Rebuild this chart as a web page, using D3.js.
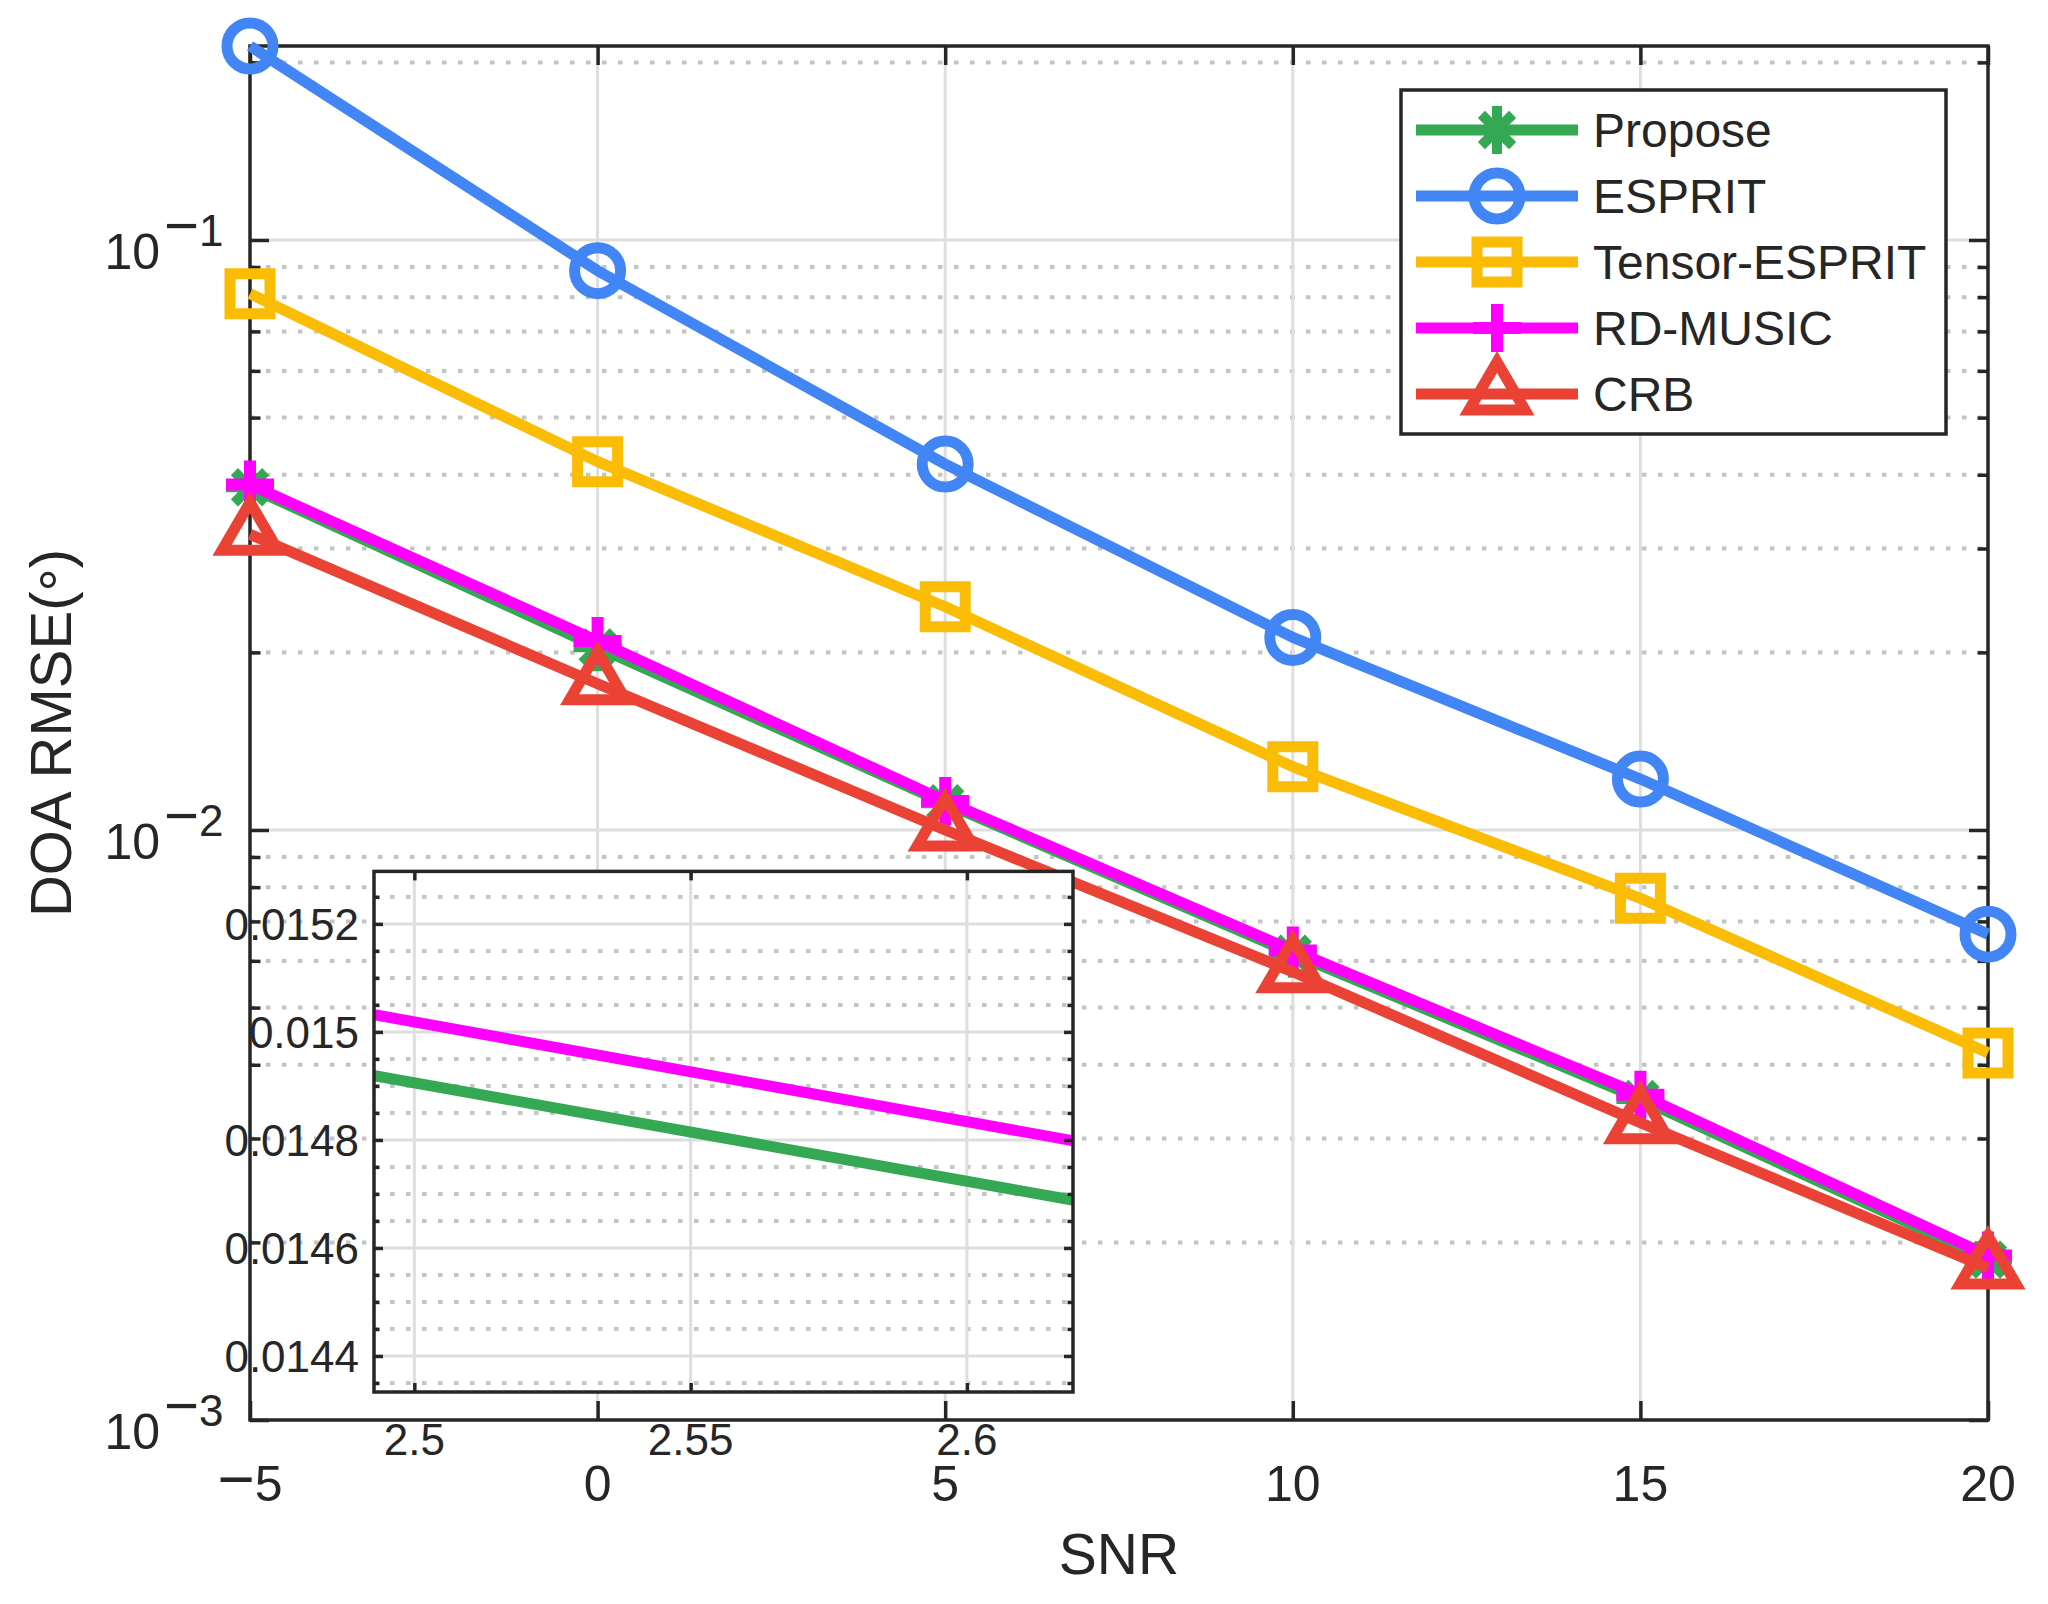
<!DOCTYPE html>
<html>
<head>
<meta charset="utf-8">
<script src="https://cdn.jsdelivr.net/npm/d3@7"></script>
<style>
  body { margin: 0; background: #fff; }
  svg { display: block; }
  text { font-family: "Liberation Sans", Arial, Helvetica, sans-serif; fill: #262626; }
</style>
</head>
<body>
<svg id="chart"></svg>
<script>
// data
var snr = [-5, 0, 5, 10, 15, 20];
var propose = [0.0381, 0.0204, 0.0111, 0.00617, 0.00350, 0.00187];
var esprit  = [0.2132, 0.0887, 0.0417, 0.0212, 0.0122, 0.00666];
var tensor  = [0.0811, 0.0421, 0.0239, 0.0128, 0.00766, 0.00419];
var rdmusic = [0.0385, 0.0209, 0.0112, 0.00625, 0.00356, 0.00190];
var crb     = [0.0317, 0.0177, 0.0100, 0.00575, 0.00319, 0.00181];

var names   = ["Propose", "ESPRIT", "Tensor-ESPRIT", "RD-MUSIC", "CRB"];
var colors  = ["#34a853", "#4285f4", "#fbbc05", "#ff00ff", "#ea4335"];
var markers = ["star", "circle", "square", "plus", "triangle"];

var xTicks = [-5, 0, 5, 10, 15, 20];
var xTickLabels = ["\u22125", "0", "5", "10", "15", "20"];
var yMajorTicks = [1e-3, 1e-2, 1e-1];
var yExponents = ["3", "2", "1"];

// zoomed-in inset
var insetSnr = [2.49, 2.62];
var insetPropose = [0.014924, 0.014687];
var insetRdmusic = [0.015037, 0.014797];
var insetXTicks = [2.5, 2.55, 2.6];
var insetXTickLabels = ["2.5", "2.55", "2.6"];
var insetYTicks = [0.0144, 0.0146, 0.0148, 0.015, 0.0152];
var insetYTickLabels = ["0.0144", "0.0146", "0.0148", "0.015", "0.0152"];

var W = 2048, H = 1604;
var ink = "#262626";

var svg = d3.select("#chart").attr("width", W).attr("height", H);
svg.append("rect").attr("width", W).attr("height", H).attr("fill", "#fff");

var x = d3.scaleLinear().domain([-5, 20]).range([250, 1988]);
var y = d3.scaleLog().domain([1e-3, 0.2132]).range([1420, 46]);

var yMinor = [];
yMajorTicks.forEach(d => {
  d3.range(2, 10).forEach(k => {
    var v = k * d;
    if (v <= y.domain()[1]) yMinor.push(v);
  });
});

// grid
var grid = svg.append("g");
grid.selectAll(".ymin").data(yMinor).enter().append("line")
    .attr("x1", x.range()[0]).attr("x2", x.range()[1])
    .attr("y1", d => y(d)).attr("y2", d => y(d))
    .attr("stroke", "#c4c4c4").attr("stroke-width", 4)
    .attr("stroke-dasharray", "4.5 11.5");
grid.selectAll(".ymaj").data(yMajorTicks.slice(1)).enter().append("line")
    .attr("x1", x.range()[0]).attr("x2", x.range()[1])
    .attr("y1", d => y(d)).attr("y2", d => y(d))
    .attr("stroke", "#dedede").attr("stroke-width", 3);
grid.selectAll(".xmaj").data(xTicks.slice(1, -1)).enter().append("line")
    .attr("x1", d => x(d)).attr("x2", d => x(d))
    .attr("y1", y.range()[0]).attr("y2", y.range()[1])
    .attr("stroke", "#dedede").attr("stroke-width", 3);

// axes box and ticks
function tickStyle(g) {
  g.select(".domain").remove();
  g.selectAll(".tick text").remove();
  g.selectAll(".tick line").attr("stroke", ink).attr("stroke-width", 3.5);
}

svg.append("g").attr("transform", "translate(0," + y.range()[0] + ")")
    .call(d3.axisBottom(x).tickValues(xTicks).tickSizeInner(-19).tickSizeOuter(0)).call(tickStyle);
svg.append("g").attr("transform", "translate(0," + y.range()[1] + ")")
    .call(d3.axisTop(x).tickValues(xTicks).tickSizeInner(-19).tickSizeOuter(0)).call(tickStyle);
[["left", x.range()[0]], ["right", x.range()[1]]].forEach(p => {
  var mk = p[0] === "left" ? d3.axisLeft : d3.axisRight;
  svg.append("g").attr("transform", "translate(" + p[1] + ",0)")
      .call(mk(y).tickValues(yMajorTicks).tickSizeInner(-19).tickSizeOuter(0)).call(tickStyle);
  svg.append("g").attr("transform", "translate(" + p[1] + ",0)")
      .call(mk(y).tickValues(yMinor).tickSizeInner(-10.5).tickSizeOuter(0)).call(tickStyle);
});

svg.append("rect")
    .attr("x", x.range()[0]).attr("y", y.range()[1])
    .attr("width", x.range()[1] - x.range()[0])
    .attr("height", y.range()[0] - y.range()[1])
    .attr("fill", "none").attr("stroke", ink).attr("stroke-width", 3.5);

// tick labels
svg.selectAll(".xlab").data(xTicks).enter().append("text")
    .attr("x", d => x(d)).attr("y", 1501)
    .attr("text-anchor", "middle").attr("font-size", 50)
    .each(function(d, i) {
      var t = d3.select(this), lab = xTickLabels[i];
      if (lab[0] === "\u2212") {
        t.append("tspan").attr("font-size", 64).text("\u2212");
        t.append("tspan").text(lab.slice(1));
      } else {
        t.text(lab);
      }
    });

yMajorTicks.forEach((d, i) => {
  svg.append("text").attr("x", 160).attr("y", y(d) + 29)
      .attr("text-anchor", "end").attr("font-size", 50).text("10");
  var e = svg.append("text").attr("x", 164).attr("y", y(d) + 6).attr("font-size", 44);
  e.append("tspan").attr("font-size", 60).text("\u2212");
  e.append("tspan").text(yExponents[i]);
});

// axis titles
svg.append("text").attr("x", (x.range()[0] + x.range()[1]) / 2).attr("y", 1574)
    .attr("text-anchor", "middle").attr("font-size", 57).text("SNR");
var yl = svg.append("text")
    .attr("transform", "translate(71," + (y.range()[0] + y.range()[1]) / 2 + ") rotate(-90)")
    .attr("text-anchor", "middle").attr("font-size", 58);
yl.append("tspan").text("DOA RMSE(");
yl.append("tspan").attr("dy", 9).text("\u00b0");
yl.append("tspan").attr("dy", -9).text(")");

// markers
var markerPaths = {
  star: "M0,-24V24M-24,0H24M-15.6,-15.6L15.6,15.6M-15.6,15.6L15.6,-15.6",
  circle: "M23,0A23,23 0 1,1 -23,0A23,23 0 1,1 23,0Z",
  square: "M-20,-20H20V20H-20Z",
  plus: "M0,-24V24M-24,0H24",
  triangle: "M0,-32L28,16L-28,16Z"
};
var markerWidth = { star: 10, circle: 11, square: 11, plus: 12, triangle: 11 };

function drawMarker(sel, type, color) {
  sel.attr("d", markerPaths[type])
     .attr("fill", "none")
     .attr("stroke", color)
     .attr("stroke-width", markerWidth[type])
     .attr("stroke-linejoin", "miter")
     .attr("stroke-miterlimit", 10)
     .attr("stroke-linecap", "butt");
}

var seriesValues = [propose, esprit, tensor, rdmusic, crb];
var series = names.map((n, i) => ({ name: n, values: seriesValues[i], color: colors[i], marker: markers[i] }));

var line = d3.line().x((d, i) => x(snr[i])).y(d => y(d));

series.forEach(s => {
  var g = svg.append("g");
  g.append("path").datum(s.values)
      .attr("d", line)
      .attr("fill", "none")
      .attr("stroke", s.color)
      .attr("stroke-width", 11)
      .attr("stroke-linejoin", "round");
  g.selectAll(".mk").data(s.values).enter().append("path")
      .attr("transform", (d, i) => "translate(" + x(snr[i]) + "," + y(d) + ")")
      .call(drawMarker, s.marker, s.color);
});

// inset
var ix = d3.scaleLinear().domain([2.4927, 2.6192]).range([374, 1073]);
var iy = d3.scaleLinear().domain([0.0143333, 0.0152972]).range([1392, 871.4]);
var iyMinor = d3.range(0, 20).map(k => +(0.01435 + k * 0.00005).toFixed(5))
    .filter(v => insetYTicks.indexOf(v) < 0 && v <= iy.domain()[1]);

var inset = svg.append("g");
inset.append("rect")
    .attr("x", ix.range()[0]).attr("y", iy.range()[1])
    .attr("width", ix.range()[1] - ix.range()[0])
    .attr("height", iy.range()[0] - iy.range()[1])
    .attr("fill", "#fff");
inset.selectAll(".imin").data(iyMinor).enter().append("line")
    .attr("x1", ix.range()[0]).attr("x2", ix.range()[1])
    .attr("y1", d => iy(d)).attr("y2", d => iy(d))
    .attr("stroke", "#c4c4c4").attr("stroke-width", 4)
    .attr("stroke-dasharray", "4.5 11.5");
inset.selectAll(".imaj").data(insetYTicks).enter().append("line")
    .attr("x1", ix.range()[0]).attr("x2", ix.range()[1])
    .attr("y1", d => iy(d)).attr("y2", d => iy(d))
    .attr("stroke", "#dedede").attr("stroke-width", 3);
inset.selectAll(".ixmaj").data(insetXTicks).enter().append("line")
    .attr("x1", d => ix(d)).attr("x2", d => ix(d))
    .attr("y1", iy.range()[0]).attr("y2", iy.range()[1])
    .attr("stroke", "#dedede").attr("stroke-width", 3);

svg.append("clipPath").attr("id", "insetClip").append("rect")
    .attr("x", ix.range()[0]).attr("y", iy.range()[1])
    .attr("width", ix.range()[1] - ix.range()[0])
    .attr("height", iy.range()[0] - iy.range()[1]);

var iline = d3.line().x((d, i) => ix(insetSnr[i])).y(d => iy(d));
[[insetPropose, colors[0]], [insetRdmusic, colors[3]]].forEach(p => {
  inset.append("path").datum(p[0])
      .attr("clip-path", "url(#insetClip)")
      .attr("d", iline)
      .attr("fill", "none")
      .attr("stroke", p[1])
      .attr("stroke-width", 11);
});

inset.append("g").attr("transform", "translate(0," + iy.range()[0] + ")")
    .call(d3.axisBottom(ix).tickValues(insetXTicks).tickSizeInner(-9).tickSizeOuter(0)).call(tickStyle);
inset.append("g").attr("transform", "translate(0," + iy.range()[1] + ")")
    .call(d3.axisTop(ix).tickValues(insetXTicks).tickSizeInner(-9).tickSizeOuter(0)).call(tickStyle);
[[d3.axisLeft, ix.range()[0]], [d3.axisRight, ix.range()[1]]].forEach(p => {
  inset.append("g").attr("transform", "translate(" + p[1] + ",0)")
      .call(p[0](iy).tickValues(insetYTicks).tickSizeInner(-9).tickSizeOuter(0)).call(tickStyle);
  inset.append("g").attr("transform", "translate(" + p[1] + ",0)")
      .call(p[0](iy).tickValues(iyMinor).tickSizeInner(-5.5).tickSizeOuter(0)).call(tickStyle);
});
inset.append("rect")
    .attr("x", ix.range()[0]).attr("y", iy.range()[1])
    .attr("width", ix.range()[1] - ix.range()[0])
    .attr("height", iy.range()[0] - iy.range()[1])
    .attr("fill", "none").attr("stroke", ink).attr("stroke-width", 3.5);

inset.selectAll(".ixlab").data(insetXTicks).enter().append("text")
    .attr("x", d => ix(d)).attr("y", 1455)
    .attr("text-anchor", "middle").attr("font-size", 44)
    .text((d, i) => insetXTickLabels[i]);
inset.selectAll(".iylab").data(insetYTicks).enter().append("text")
    .attr("x", ix.range()[0] - 15).attr("y", d => iy(d) + 16)
    .attr("text-anchor", "end").attr("font-size", 44)
    .text((d, i) => insetYTickLabels[i]);

// legend
var legend = svg.append("g");
legend.append("rect")
    .attr("x", 1401).attr("y", 90).attr("width", 545).attr("height", 344)
    .attr("fill", "#fff").attr("stroke", ink).attr("stroke-width", 3.5);
var rowY = d3.scalePoint().domain(names).range([130, 394]);
series.forEach(s => {
  var cy = rowY(s.name);
  legend.append("line")
      .attr("x1", 1416).attr("x2", 1578).attr("y1", cy).attr("y2", cy)
      .attr("stroke", s.color).attr("stroke-width", 11);
  legend.append("path")
      .attr("transform", "translate(1497," + cy + ")")
      .call(drawMarker, s.marker, s.color);
  legend.append("text")
      .attr("x", 1593).attr("y", cy + 17)
      .attr("font-size", 48)
      .text(s.name);
});
</script>
</body>
</html>
